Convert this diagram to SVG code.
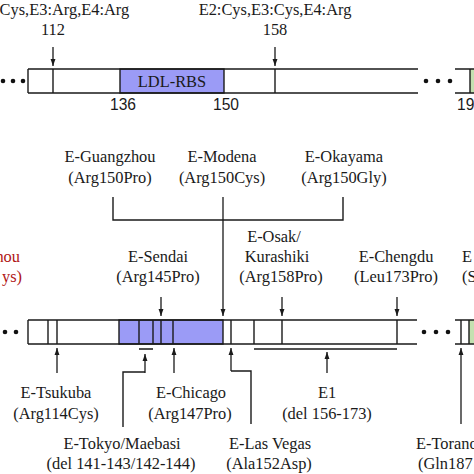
<svg xmlns="http://www.w3.org/2000/svg" width="474" height="474" viewBox="0 0 474 474">
<defs>
<marker id="ah" viewBox="0 0 10 10" refX="10" refY="5" markerWidth="7" markerHeight="7" orient="auto-start-reverse" markerUnits="userSpaceOnUse">
<path d="M0,1.5 L10,5 L0,8.5 Z" fill="#1a1a1a"/>
</marker>
<style>
text{font-family:"Liberation Serif","Times New Roman",serif;font-size:16.4px;fill:#1a1a1a;text-anchor:middle}
.sans{font-family:"Liberation Sans",Arial,sans-serif;font-size:15.6px}
.red{fill:#b01515}
.ln{stroke:#1a1a1a;stroke-width:1.4;fill:none}
.arr{stroke:#1a1a1a;stroke-width:1.3;fill:none;marker-end:url(#ah)}
.blue{fill:#9b9bf6;stroke:#1a1a1a;stroke-width:1.4}
.green{fill:#c4e0b0}
.dot{fill:#111}
</style>
</defs>
<rect width="474" height="474" fill="#fff"/>

<!-- Top protein bar -->
<g id="top-bar">
<circle class="dot" cx="3" cy="81" r="2.3"/><circle class="dot" cx="13" cy="81" r="2.3"/><circle class="dot" cx="23" cy="81" r="2.3"/>
<rect class="blue" x="120" y="69" width="104" height="24"/>
<path class="ln" d="M28,69 H418 M28,93 H418 M28,69 V93 M53,69 V93 M275,69 V93"/>
<circle class="dot" cx="426" cy="81" r="2.3"/><circle class="dot" cx="438" cy="81" r="2.3"/><circle class="dot" cx="450" cy="81" r="2.3"/>
<rect class="green" x="470" y="69" width="6" height="24"/>
<path class="ln" d="M455,69 H476 M455,93 H476 M470,69 V93"/>
<text x="172" y="87">LDL-RBS</text>
<text class="sans" x="123" y="110">136</text>
<text class="sans" x="226" y="110">150</text>
<text class="sans" x="457" y="110" style="text-anchor:start">19</text>
</g>

<g id="iso-112">
<text x="53" y="15">E2:Cys,E3:Arg,E4:Arg</text>
<text x="53" y="35">112</text>
</g>
<g id="iso-158">
<text x="275" y="15">E2:Cys,E3:Cys,E4:Arg</text>
<text x="275" y="35">158</text>
</g>

<!-- Bottom protein bar -->
<g id="bottom-bar">
<circle class="dot" cx="5" cy="332" r="2.3"/><circle class="dot" cx="16" cy="332" r="2.3"/>
<rect class="blue" x="119" y="320" width="104" height="24"/>
<path class="ln" d="M28,320 H417 M28,344 H417 M28,320 V344 M48,320 V344 M57,320 V344 M139,320 V344 M153,320 V344 M161,320 V344 M173,320 V344 M231,320 V344 M254,320 V344 M282,320 V344 M397,320 V344"/>
<circle class="dot" cx="424" cy="332" r="2.3"/><circle class="dot" cx="436" cy="332" r="2.3"/><circle class="dot" cx="448" cy="332" r="2.3"/>
<rect class="green" x="469" y="320" width="7" height="24"/>
<path class="ln" d="M455,320 H476 M455,344 H476 M461,320 V344 M469,320 V344"/>
<path class="ln" d="M139,349 H153 M254,349 H397"/>
</g>

<!-- Nodes -->
<g id="guangzhou"><text x="110" y="162">E-Guangzhou</text><text x="110" y="183">(Arg150Pro)</text></g>
<g id="modena"><text x="222" y="162">E-Modena</text><text x="222" y="183">(Arg150Cys)</text></g>
<g id="okayama"><text x="344" y="162">E-Okayama</text><text x="344" y="183">(Arg150Gly)</text></g>
<g id="left-red"><text class="red" x="20" y="262" style="text-anchor:end">hou</text><text class="red" x="22" y="282" style="text-anchor:end">ys)</text></g>
<g id="sendai"><text x="158" y="262">E-Sendai</text><text x="158" y="282">(Arg145Pro)</text></g>
<g id="osaka"><text x="274" y="242">E-Osak/</text><text x="277" y="262">Kurashiki</text><text x="281" y="282">(Arg158Pro)</text></g>
<g id="chengdu"><text x="396" y="262">E-Chengdu</text><text x="396" y="282">(Leu173Pro)</text></g>
<g id="right-cut"><text x="462" y="262" style="text-anchor:start">E</text><text x="462" y="282" style="text-anchor:start">(S</text></g>
<g id="tsukuba"><text x="56" y="398">E-Tsukuba</text><text x="56" y="419">(Arg114Cys)</text></g>
<g id="chicago"><text x="191" y="398">E-Chicago</text><text x="190" y="419">(Arg147Pro)</text></g>
<g id="e1"><text x="327" y="398">E1</text><text x="327" y="419">(del 156-173)</text></g>
<g id="tokyo"><text x="122" y="449">E-Tokyo/Maebasi</text><text x="121" y="469">(del 141-143/142-144)</text></g>
<g id="lasvegas"><text x="270" y="449">E-Las Vegas</text><text x="269" y="469">(Ala152Asp)</text></g>
<g id="toranomon"><text x="416" y="449" style="text-anchor:start">E-Toranomon</text><text x="418" y="469" style="text-anchor:start">(Gln187</text></g>

<!-- Connectors -->
<g id="connectors">
<path class="arr" d="M53,47 V66"/>
<path class="arr" d="M275,47 V66"/>
<path class="ln" d="M113,197 V220 H343 V197"/>
<path class="arr" d="M223,197 V316"/>
<path class="arr" d="M161,297 V316"/>
<path class="arr" d="M282,297 V316"/>
<path class="arr" d="M397,297 V316"/>
<path class="arr" d="M57,373 V348"/>
<path class="arr" d="M145,373 V354"/>
<path class="ln" d="M145,372 H123 V427"/>
<path class="arr" d="M174,373 V348"/>
<path class="arr" d="M231,371 V348"/>
<path class="ln" d="M231,371 H251 V424"/>
<path class="arr" d="M327,373 V352"/>
<path class="arr" d="M461,424 V348"/>
</g>
</svg>
